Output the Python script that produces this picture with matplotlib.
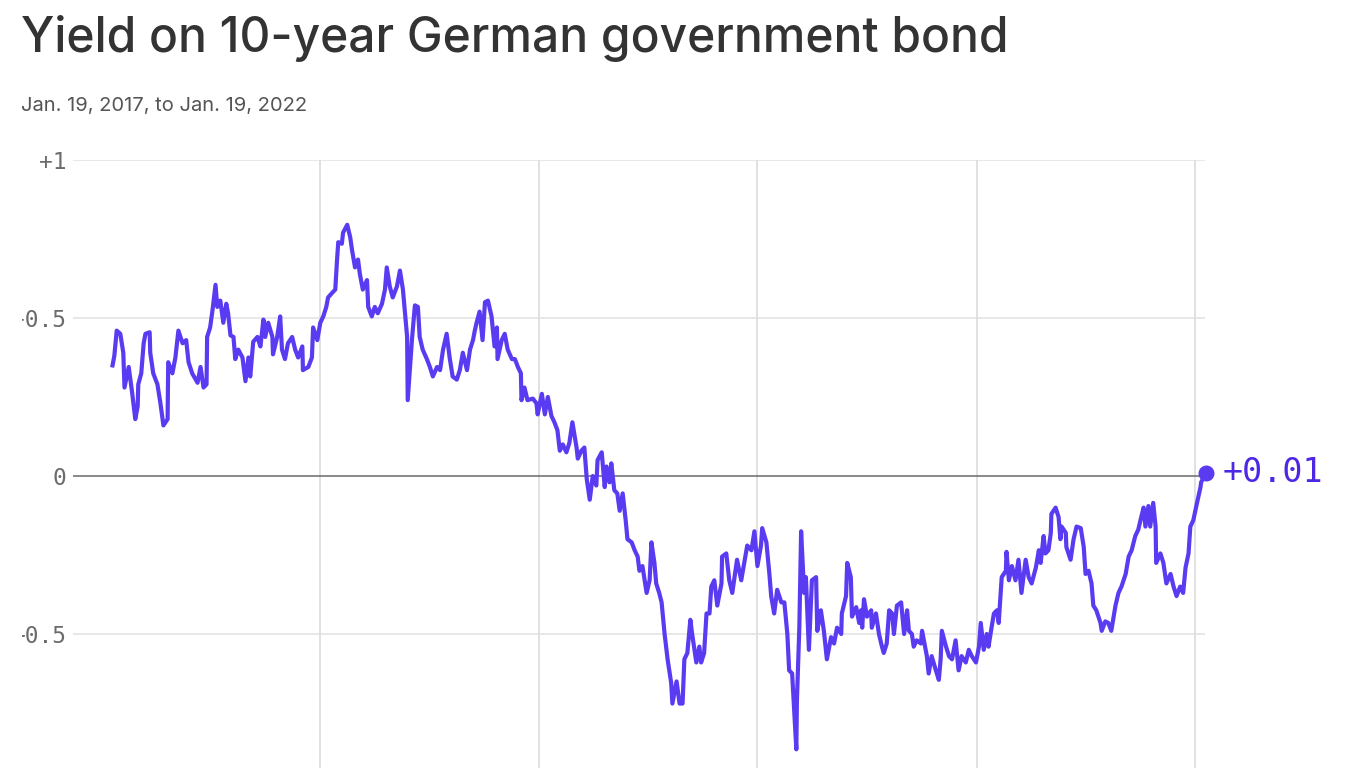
import matplotlib
matplotlib.use("Agg")
import matplotlib.pyplot as plt
from matplotlib.transforms import Bbox
import pandas as pd

# ---------------- data ----------------
title = "Yield on 10-year German government bond"
subtitle = "Jan. 19, 2017, to Jan. 19, 2022"
start_date = "2017-01-19"

day_offset = [
    0, 3, 7, 13, 18, 20, 27, 33, 38, 42, 43, 48, 52, 55, 62, 63, 68, 75, 80, 85,
    92, 93, 100, 105, 110, 117, 123, 127, 133, 142, 147, 152, 157, 158, 163, 167, 172, 175, 180, 185,
    190, 193, 197, 202, 205, 210, 217, 222, 227, 230, 235, 242, 247, 252, 255, 260, 267, 268, 275, 280,
    283, 288, 293, 300, 305, 310, 317, 318, 327, 333, 335, 342, 347, 352, 357, 360, 367, 372, 375, 377,
    383, 385, 392, 397, 400, 405, 410, 413, 418, 425, 427, 433, 438, 443, 450, 455, 458, 463, 468, 475,
    480, 485, 488, 492, 493, 500, 505, 510, 513, 518, 525, 530, 535, 542, 547, 552, 558, 563, 568, 575,
    580, 585, 592, 597, 602, 605, 608, 613, 618, 622, 627, 633, 638, 642, 643, 650, 655, 660, 667, 672,
    677, 682, 683, 688, 693, 702, 708, 710, 717, 722, 727, 733, 738, 743, 747, 752, 758, 763, 768, 775,
    777, 783, 788, 792, 797, 802, 808, 810, 817, 822, 825, 830, 833, 838, 843, 847, 852, 857, 860, 867,
    872, 877, 880, 885, 892, 897, 900, 905, 908, 913, 917, 922, 927, 933, 935, 942, 947, 952, 955, 960,
    965, 968, 975, 980, 983, 988, 992, 997, 1000, 1005, 1010, 1017, 1018, 1025, 1030, 1035, 1038, 1043, 1050, 1055,
    1060, 1067, 1072, 1077, 1083, 1085, 1092, 1097, 1100, 1105, 1110, 1117, 1122, 1127, 1130, 1135, 1142, 1143, 1147, 1150,
    1155, 1158, 1163, 1168, 1175, 1177, 1183, 1188, 1193, 1200, 1205, 1210, 1217, 1218, 1225, 1227, 1233, 1235, 1242, 1247,
    1250, 1252, 1255, 1260, 1267, 1268, 1275, 1280, 1285, 1288, 1293, 1297, 1302, 1305, 1310, 1317, 1322, 1327, 1330, 1335,
    1338, 1343, 1350, 1352, 1358, 1360, 1363, 1368, 1375, 1380, 1383, 1385, 1392, 1397, 1402, 1408, 1413, 1418, 1425, 1430,
    1435, 1442, 1447, 1450, 1455, 1460, 1463, 1468, 1472, 1477, 1480, 1485, 1492, 1493, 1497, 1502, 1508, 1513, 1518, 1525,
    1530, 1535, 1542, 1547, 1550, 1555, 1558, 1563, 1567, 1568, 1575, 1580, 1583, 1585, 1592, 1593, 1600, 1605, 1610, 1617,
    1622, 1625, 1630, 1635, 1638, 1643, 1650, 1652, 1658, 1663, 1668, 1675, 1680, 1685, 1692, 1697, 1702, 1708, 1713, 1718,
    1722, 1725, 1730, 1733, 1738, 1742, 1743, 1750, 1755, 1760, 1767, 1772, 1777, 1783, 1788, 1792, 1797, 1800, 1805, 1810,
    1817, 1818, 1826,
]

yield_pct = [
    0.35, 0.38, 0.46, 0.45, 0.39, 0.28, 0.345, 0.26, 0.18, 0.22, 0.29, 0.325, 0.42, 0.45, 0.455, 0.39, 0.325, 0.29, 0.23, 0.16,
    0.18, 0.36, 0.325, 0.375, 0.46, 0.42, 0.43, 0.36, 0.325, 0.295, 0.345, 0.28, 0.29, 0.44, 0.47, 0.525, 0.605, 0.535, 0.555, 0.485,
    0.545, 0.515, 0.445, 0.44, 0.37, 0.40, 0.375, 0.30, 0.375, 0.315, 0.425, 0.44, 0.41, 0.495, 0.44, 0.485, 0.44, 0.385, 0.44, 0.505,
    0.40, 0.37, 0.42, 0.44, 0.40, 0.375, 0.41, 0.335, 0.345, 0.375, 0.47, 0.43, 0.485, 0.505, 0.535, 0.565, 0.58, 0.59, 0.685, 0.74,
    0.735, 0.77, 0.795, 0.755, 0.715, 0.66, 0.685, 0.64, 0.59, 0.62, 0.535, 0.505, 0.535, 0.515, 0.545, 0.59, 0.66, 0.60, 0.565, 0.60,
    0.65, 0.59, 0.525, 0.44, 0.24, 0.43, 0.54, 0.535, 0.44, 0.40, 0.37, 0.345, 0.315, 0.345, 0.335, 0.40, 0.45, 0.375, 0.315, 0.305,
    0.335, 0.39, 0.335, 0.40, 0.43, 0.46, 0.485, 0.52, 0.43, 0.55, 0.555, 0.505, 0.41, 0.47, 0.37, 0.43, 0.45, 0.40, 0.37, 0.37,
    0.345, 0.325, 0.24, 0.28, 0.24, 0.245, 0.23, 0.195, 0.26, 0.195, 0.25, 0.19, 0.17, 0.145, 0.08, 0.10, 0.075, 0.105, 0.17, 0.09,
    0.055, 0.08, 0.09, -0.01, -0.075, 0.0, -0.03, 0.05, 0.075, -0.035, 0.03, -0.02, 0.04, -0.045, -0.055, -0.11, -0.055, -0.14, -0.20, -0.21,
    -0.235, -0.255, -0.30, -0.285, -0.37, -0.33, -0.21, -0.275, -0.34, -0.37, -0.40, -0.50, -0.58, -0.655, -0.72, -0.65, -0.72, -0.72, -0.58, -0.56,
    -0.455, -0.50, -0.59, -0.54, -0.59, -0.56, -0.435, -0.435, -0.35, -0.33, -0.41, -0.34, -0.255, -0.245, -0.33, -0.37, -0.33, -0.265, -0.33, -0.275,
    -0.22, -0.235, -0.175, -0.285, -0.22, -0.165, -0.21, -0.31, -0.38, -0.435, -0.36, -0.40, -0.40, -0.50, -0.615, -0.625, -0.865, -0.71, -0.48, -0.175,
    -0.37, -0.32, -0.55, -0.33, -0.32, -0.49, -0.425, -0.49, -0.58, -0.51, -0.53, -0.48, -0.50, -0.435, -0.38, -0.275, -0.32, -0.445, -0.415, -0.465,
    -0.425, -0.48, -0.39, -0.445, -0.425, -0.48, -0.435, -0.50, -0.54, -0.56, -0.53, -0.425, -0.435, -0.50, -0.41, -0.40, -0.50, -0.425, -0.49, -0.50,
    -0.54, -0.52, -0.53, -0.49, -0.55, -0.57, -0.625, -0.57, -0.615, -0.645, -0.58, -0.49, -0.54, -0.57, -0.58, -0.52, -0.615, -0.57, -0.59, -0.55,
    -0.57, -0.59, -0.54, -0.465, -0.55, -0.50, -0.54, -0.48, -0.435, -0.425, -0.465, -0.32, -0.30, -0.24, -0.33, -0.285, -0.33, -0.265, -0.37, -0.265,
    -0.32, -0.34, -0.29, -0.235, -0.275, -0.19, -0.245, -0.235, -0.18, -0.12, -0.10, -0.13, -0.20, -0.16, -0.18, -0.225, -0.265, -0.20, -0.16, -0.165,
    -0.225, -0.31, -0.30, -0.34, -0.41, -0.425, -0.465, -0.49, -0.46, -0.465, -0.49, -0.41, -0.37, -0.35, -0.31, -0.255, -0.235, -0.19, -0.17, -0.13,
    -0.10, -0.16, -0.095, -0.16, -0.085, -0.16, -0.275, -0.245, -0.275, -0.34, -0.31, -0.35, -0.38, -0.35, -0.37, -0.29, -0.245, -0.16, -0.14, -0.095,
    -0.035, -0.02, 0.01,
]

last_label = "+0.01"
y_ticks = [-0.5, 0, 0.5, 1]
y_tick_labels = ["\u22120.5", "0", "+0.5", "+1"]
year_starts = ["2018-01-01", "2019-01-01", "2020-01-01", "2021-01-01", "2022-01-01"]
x_range = ["2016-11-14", "2022-01-17 12:00"]
y_range = [-0.924, 1.0]

# ---------------- figure ----------------
W, H = 1366, 768
fig = plt.figure(figsize=(W / 100, H / 100), dpi=100)
fig.patch.set_facecolor("white")

LINE = "#5a3bf2"
ax = fig.add_axes([73 / W, 0, (1205 - 73) / W, (768 - 160) / H])
dates = pd.Timestamp(start_date) + pd.to_timedelta(day_offset, unit="D")

ax.set_xlim(pd.Timestamp(x_range[0]), pd.Timestamp(x_range[1]))
ax.set_ylim(*y_range)
for s in ax.spines.values():
    s.set_visible(False)

# grid
for yv in y_ticks:
    if yv == 0:
        continue
    ax.axhline(yv, color="#e1e1e1", lw=1.1, zorder=1)
for d in year_starts:
    ax.axvline(pd.Timestamp(d), color="#dedede", lw=1.3, zorder=1)
ax.axhline(0, color="#6a6a6a", lw=1.1, zorder=2)

ax.plot(dates, yield_pct, color=LINE, lw=3.0, solid_joinstyle="round", zorder=3)
ax.plot([dates[-1]], [yield_pct[-1]], "o", color=LINE, ms=10.5, zorder=4, clip_on=False)
ax.annotate(last_label, (dates[-1], yield_pct[-1]), xytext=(12, 0), textcoords="offset points",
            ha="left", va="center", fontsize=24, color="#4e27e6", family="DejaVu Sans Mono",
            annotation_clip=False)

ax.set_xticks([pd.Timestamp(d) for d in year_starts])
ax.set_xticklabels([])
ax.tick_params(axis="x", length=0)
ax.set_yticks(y_ticks)
ax.set_yticklabels(y_tick_labels, family="DejaVu Sans Mono", fontsize=16.5, color="#6b6b6b")
ax.tick_params(axis="y", length=0, pad=5)
clip = Bbox([[22, 0], [W, H]])
for lab in ax.get_yticklabels():
    lab.set_clip_box(clip)
    lab.set_clip_on(True)

fig.text(21 / W, 1 - 52 / H, title, ha="left", va="baseline", fontsize=34.5,
         family="Inter", weight="medium", color="#333333")
fig.text(21 / W, 1 - 111 / H, subtitle, ha="left", va="baseline", fontsize=14.5,
         family="Inter", color="#555555")

fig.savefig("out.png", dpi=100, facecolor="white")
